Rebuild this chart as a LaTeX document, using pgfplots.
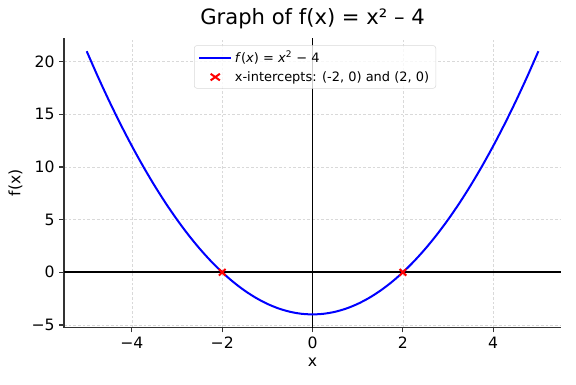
\documentclass[border=0pt]{standalone}
\usepackage{fontspec}
\setmainfont{DejaVu Sans}
\usepackage{pgfplots}
\pgfplotsset{compat=1.18}
\definecolor{spine}{HTML}{333333}
\begin{document}
\begin{tikzpicture}
\begin{axis}[
  name=ax,
  scale only axis,
  width=372pt, height=216.75pt,
  xmin=-5.5, xmax=5.5, ymin=-5.25, ymax=22.25,
  axis x line*=bottom, axis y line*=left,
  axis line style={line width=1pt, draw=spine},
  xtick={-4,-2,0,2,4}, xticklabels={−4,−2,0,2,4},
  ytick={-5,0,5,10,15,20}, yticklabels={−5,0,5,10,15,20},
  tick align=outside, major tick length=3.6pt,
  tick style={line width=0.9pt, spine},
  ticklabel style={font=\fontsize{11.7}{13}\selectfont},
  grid=major, grid style={dash pattern=on 2pt off 1.5pt, gray!30, line width=0.5pt},
  xlabel={x}, ylabel={f(x)},
  label style={font=\fontsize{11.7}{13}\selectfont},
  title={Graph of f(x) = x² – 4},
  title style={font=\fontsize{15.8}{18}\selectfont, yshift=-3pt},
  legend style={at={(0.505,0.975)}, anchor=north, draw=gray!30, rounded corners=2pt,
    font=\fontsize{9.7}{11}\selectfont, fill=white, fill opacity=0.8, text opacity=1,
    row sep=1pt, inner xsep=3pt, inner ysep=2pt},
  legend image post style={xscale=1.4},
  legend cell align=left,
]
\addplot[black, line width=1.2pt, forget plot] coordinates {(-5.5,0) (5.5,0)};
\addplot[black, line width=1.2pt, forget plot] coordinates {(0,-5.25) (0,22.25)};
\addplot[blue, line width=1.5pt, smooth] coordinates {
(-5,21) (-4.75,18.5625) (-4.5,16.25) (-4.25,14.0625) (-4,12) (-3.75,10.0625)
(-3.5,8.25) (-3.25,6.5625) (-3,5) (-2.75,3.5625) (-2.5,2.25) (-2.25,1.0625)
(-2,0) (-1.75,-0.9375) (-1.5,-1.75) (-1.25,-2.4375) (-1,-3) (-0.75,-3.4375)
(-0.5,-3.75) (-0.25,-3.9375) (0,-4) (0.25,-3.9375) (0.5,-3.75) (0.75,-3.4375)
(1,-3) (1.25,-2.4375) (1.5,-1.75) (1.75,-0.9375) (2,0) (2.25,1.0625)
(2.5,2.25) (2.75,3.5625) (3,5) (3.25,6.5625) (3.5,8.25) (3.75,10.0625)
(4,12) (4.25,14.0625) (4.5,16.25) (4.75,18.5625) (5,21)};
\addlegendentry{\textit{f}(\textit{x}) = \textit{x}\textsuperscript{2} − 4}
\addplot[only marks, red, mark=x, mark size=3.5pt, mark options={line width=1.5pt}] coordinates {(-2,0) (2,0)};
\addlegendentry{x-intercepts: (-2, 0) and (2, 0)}
\end{axis}
\path ([shift={(-48pt,-42.75pt)}]ax.south west) rectangle ([shift={(11.25pt,28.5pt)}]ax.north east);
\end{tikzpicture}
\end{document}
